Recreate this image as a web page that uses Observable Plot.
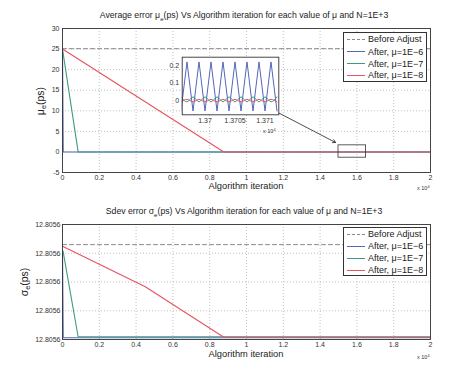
<!DOCTYPE html>
<html>
<head>
<meta charset="utf-8">
<script src="https://cdn.jsdelivr.net/npm/d3@7"></script>
<script src="https://cdn.jsdelivr.net/npm/@observablehq/plot@0.6"></script>
<style>
  html, body { margin: 0; padding: 0; background: #fff; }
  #root { position: relative; width: 474px; height: 386px; overflow: hidden; font-family: "Liberation Sans", Arial, sans-serif; color: #222; }
  .abs { position: absolute; white-space: nowrap; }
  .title { font-size: 8.7px; transform: translate(-50%, -50%); }
  .xlab { font-size: 9.3px; transform: translate(-50%, -50%); }
  .ylab { font-size: 10.5px; transform: translate(-50%, -50%) rotate(-90deg); }
  .exp { font-size: 5.5px; color: #333; }
  .legend { border: 1px solid #333; background: #fff; font-size: 9px; box-sizing: border-box; }
  .row { position: absolute; left: 0; height: 12px; display: flex; align-items: center; }
  .sw { width: 18px; margin-left: 3px; margin-right: 3px; height: 0; }
  sub { font-size: 0.7em; vertical-align: -0.35em; }
  sup { font-size: 0.7em; vertical-align: 0.6em; }
</style>
</head>
<body>
<div id="root"></div>
<script>
// ---------- data (iterations in units of 10^4) ----------
const xTicks = [0, 0.2, 0.4, 0.6, 0.8, 1, 1.2, 1.4, 1.6, 1.8, 2];
const topYTicks = [-5, 0, 5, 10, 15, 20, 25, 30];
const botYTicks = [12.80556, 12.80558, 12.80560, 12.80562, 12.80564];

const seriesNames = ["Before Adjust", "After, \u03bc=1E\u22126", "After, \u03bc=1E\u22127", "After, \u03bc=1E\u22128"];
const seriesColors = ["#8a8a8a", "#5466b8", "#3c9a86", "#e8535f"];

// top panel: mean error
const beforeX = [0, 2];
const beforeMean = [25.1, 25.1];
const mu6X = [0, 0.004, 2];
const mu6Mean = [25, 0, 0];
const mu7X = [0, 0.085, 2];
const mu7Mean = [25, 0, 0];
const mu8X = [0, 0.877, 2];
const mu8Mean = [25, 0, 0];

// bottom panel: standard deviation
const beforeSdev = [12.805626, 12.805626];
const mu6SdX = [0, 0.004, 2];
const mu6Sdev = [12.805622, 12.8055612, 12.8055612];
const mu7SdX = [0.003, 0.085, 2];
const mu7Sdev = [12.8056215, 12.8055619, 12.8055619];
const mu8SdX = [0, 0.45, 0.877, 2];
const mu8Sdev = [12.8056248, 12.8055967, 12.8055616, 12.8055616];

// inset (zoom of the converged region)
const insetIter = [1.3696, 1.3697, 1.3698, 1.3699, 1.37, 1.3701, 1.3702, 1.3703, 1.3704, 1.3705, 1.3706, 1.3707, 1.3708, 1.3709, 1.371, 1.3711, 1.3712];
const insetMu6 = [-0.06, 0.22, -0.06, 0.22, -0.06, 0.22, -0.06, 0.22, -0.06, 0.22, -0.06, 0.22, -0.06, 0.22, -0.06, 0.22, -0.06];
const insetMu7 = [0.02, -0.008, 0.02, -0.008, 0.02, -0.008, 0.02, -0.008, 0.02, -0.008, 0.02, -0.008, 0.02, -0.008, 0.02, -0.008, 0.02];
const insetMu8 = [-0.008, 0.006, -0.008, 0.006, -0.008, 0.006, -0.008, 0.006, -0.008, 0.006, -0.008, 0.006, -0.008, 0.006, -0.008, 0.006, -0.008];
const insetXTicks = [1.37, 1.3705, 1.371];
const insetYTicks = [0, 0.1, 0.2];

// zoom rectangle and arrow (main-panel data coordinates)
const zoomBox = [{x1: 1.5, x2: 1.65, y1: -1.4, y2: 1.6}];
const zoomArrow = [{x1: 1.174, y1: 9.5, x2: 1.484, y2: 2.3}];

// ---------- helpers ----------
const pts = (xs, ys) => xs.map((x, i) => ({x, y: ys[i]}));
const root = document.getElementById("root");
function place(el, left, top) {
  el.style.position = "absolute"; el.style.left = left + "px"; el.style.top = top + "px";
  root.appendChild(el);
}
function html(cls, left, top, content) {
  const d = document.createElement("div");
  d.className = "abs " + cls; d.style.left = left + "px"; d.style.top = top + "px";
  d.innerHTML = content; root.appendChild(d); return d;
}
const gridStyle = {stroke: "#b0b0b0", strokeOpacity: 1, strokeDasharray: "1,2", strokeWidth: 0.8};
const baseStyle = {fontFamily: "'Liberation Sans', Arial, sans-serif", fontSize: "7px", color: "#333", background: "transparent", overflow: "visible"};

function lineMarks(data) {
  return data.map((d, i) => Plot.line(d, {x: "x", y: "y", stroke: seriesColors[i],
    strokeWidth: i === 0 ? 1 : 1.1, strokeDasharray: i === 0 ? "4,3" : null, clip: true}));
}

// ---------- top panel ----------
const topPlot = Plot.plot({
  width: 474, height: 200,
  marginTop: 28, marginBottom: 28, marginLeft: 62, marginRight: 44,
  x: {domain: [0, 2]},
  y: {domain: [-5, 30]},
  style: baseStyle,
  marks: [
    Plot.gridX(xTicks, gridStyle),
    Plot.gridY(topYTicks, gridStyle),
    Plot.axisX(xTicks, {tickSize: 0, tickPadding: 2.5, label: null, tickFormat: d => String(d)}),
    Plot.axisY(topYTicks, {tickSize: 0, tickPadding: 3, label: null, tickFormat: d => String(d)}),
    ...lineMarks([pts(beforeX, beforeMean), pts(mu6X, mu6Mean), pts(mu7X, mu7Mean), pts(mu8X, mu8Mean)]),
    Plot.rect(zoomBox, {x1: "x1", x2: "x2", y1: "y1", y2: "y2", fill: "none", stroke: "#333", strokeWidth: 0.8}),
    Plot.arrow(zoomArrow, {x1: "x1", y1: "y1", x2: "x2", y2: "y2", stroke: "#222", strokeWidth: 0.8, headLength: 6}),
    Plot.frame({stroke: "#333", strokeWidth: 0.9})
  ]
});
place(topPlot, 0, 0);

// ---------- bottom panel ----------
const botPlot = Plot.plot({
  width: 474, height: 186,
  marginTop: 24, marginBottom: 47, marginLeft: 62, marginRight: 44,
  x: {domain: [0, 2]},
  y: {domain: [12.80556, 12.80564]},
  style: baseStyle,
  marks: [
    Plot.gridX(xTicks, gridStyle),
    Plot.gridY(botYTicks, gridStyle),
    Plot.axisX(xTicks, {tickSize: 0, tickPadding: 2.5, label: null, tickFormat: d => String(d)}),
    Plot.axisY(botYTicks, {tickSize: 0, tickPadding: 2, label: null, tickFormat: d3.format(".4f")}),
    ...lineMarks([pts(beforeX, beforeSdev), pts(mu6SdX, mu6Sdev), pts(mu7SdX, mu7Sdev), pts(mu8SdX, mu8Sdev)]),
    Plot.frame({stroke: "#333", strokeWidth: 0.9})
  ]
});
place(botPlot, 0, 200);

// ---------- inset ----------
const insetPlot = Plot.plot({
  width: 150, height: 100,
  marginLeft: 31.7, marginRight: 21.7, marginTop: 12.7, marginBottom: 29.7,
  x: {domain: [1.36962, 1.37123]},
  y: {domain: [-0.082, 0.247]},
  style: baseStyle,
  marks: [
    Plot.frame({fill: "#fff", stroke: null}),
    Plot.axisX(insetXTicks, {tickSize: 0, tickPadding: 3, label: null, tickFormat: d => String(d)}),
    Plot.axisY(insetYTicks, {tickSize: 0, tickPadding: 3, label: null, tickFormat: d => String(d)}),
    Plot.line(pts(insetIter, insetMu6), {x: "x", y: "y", stroke: seriesColors[1], strokeWidth: 1, clip: true}),
    Plot.line(pts(insetIter, insetMu7), {x: "x", y: "y", stroke: seriesColors[2], strokeWidth: 1, curve: "monotone-x", clip: true}),
    Plot.line(pts(insetIter, insetMu8), {x: "x", y: "y", stroke: seriesColors[3], strokeWidth: 1, curve: "monotone-x", clip: true}),
    Plot.frame({stroke: "#333", strokeWidth: 0.9})
  ]
});
place(insetPlot, 150, 44);

// ---------- texts ----------
html("title", 244, 16, "Average error \u03bc<sub>e</sub>(ps) Vs Algorithm iteration for each value of \u03bc and N=1E+3");
html("xlab", 246, 186, "Algorithm iteration");
html("ylab", 41, 101, "\u03bc<sub>e</sub>(ps)");
html("exp", 417, 185, "x 10<sup>4</sup>");
html("exp", 263, 128, "x 10<sup>4</sup>");

html("title", 244, 212, "Sdev error \u03c3<sub>e</sub>(ps) Vs Algorithm iteration for each value of \u03bc and N=1E+3");
html("xlab", 246, 354, "Algorithm iteration");
html("ylab", 25, 282, "\u03c3<sub>e</sub>(ps)");
html("exp", 417, 354, "x 10<sup>4</sup>");

// ---------- legends ----------
function legend(left, top, width, height, rowTops) {
  const box = document.createElement("div");
  box.className = "abs legend";
  box.style.left = left + "px"; box.style.top = top + "px";
  box.style.width = width + "px"; box.style.height = height + "px";
  seriesNames.forEach((name, i) => {
    const r = document.createElement("div");
    r.className = "row"; r.style.top = rowTops[i] + "px";
    const sw = document.createElement("div");
    sw.className = "sw";
    sw.style.borderTop = (i === 0 ? "1px dashed " : "1px solid ") + seriesColors[i];
    const t = document.createElement("span"); t.textContent = name;
    r.appendChild(sw); r.appendChild(t); box.appendChild(r);
  });
  root.appendChild(box);
}
legend(343, 31.5, 84, 50.5, [0.8, 13, 25, 36.5]);
legend(343, 226.5, 84, 49, [0.8, 12.5, 24.5, 36.5]);
</script>
</body>
</html>
